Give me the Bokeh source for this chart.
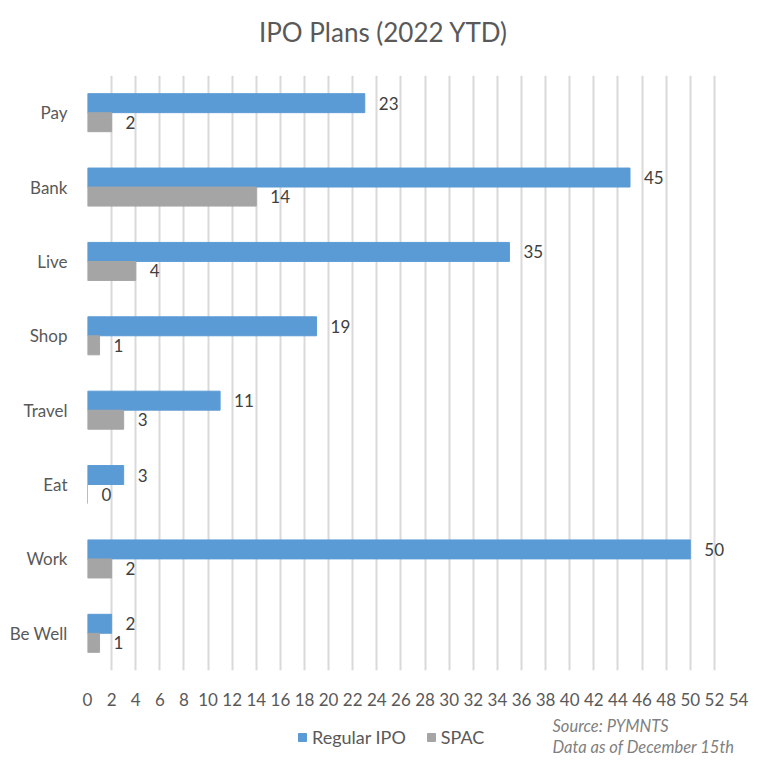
from bokeh.plotting import figure
from bokeh.layouts import column
from bokeh.models import (ColumnDataSource, FactorRange, Label, FixedTicker, Legend, LegendItem)
from bokeh.transform import dodge
from bokeh.core.properties import value
from bokeh.embed import file_html
from bokeh.resources import INLINE

categories = ["Pay", "Bank", "Live", "Shop", "Travel", "Eat", "Work", "Be Well"]
regular_ipo = [23, 45, 35, 19, 11, 3, 50, 2]
spac = [2, 14, 4, 1, 3, 0, 2, 1]
x_ticks = list(range(0, 56, 2))
series_names = ["Regular IPO", "SPAC"]
title_text = "IPO Plans (2022 YTD)"
source_lines = ["Source: PYMNTS", "Data as of December 15th"]

FONT = "Lato"
BLUE = "#5B9BD5"
GRAY = "#A5A5A5"
TXT = "#595959"


def strip(height):
    f = figure(width=754, height=height, output_backend="svg", toolbar_location=None,
               x_range=(0, 651), y_range=(0, height),
               min_border_left=87, min_border_right=16, min_border_top=0, min_border_bottom=0,
               x_axis_location=None, y_axis_location=None)
    f.outline_line_color = None
    f.xgrid.visible = False
    f.ygrid.visible = False
    return f


# title strip
p0 = strip(50)
p0.add_layout(Label(x=296, y=19, x_units="screen", y_units="screen", text=title_text,
                    text_font=FONT, text_font_size="26px", text_color=TXT,
                    text_align="center", text_baseline="middle"))

src = ColumnDataSource(dict(cat=categories, reg=regular_ipo, spac=spac,
                            reg_s=[str(v) for v in regular_ipo],
                            spac_s=[str(v) for v in spac]))

p = figure(width=754, height=662, output_backend="svg", toolbar_location=None,
           y_range=FactorRange(*categories[::-1], range_padding=0),
           x_range=(0, 54),
           min_border_left=87, min_border_right=16, min_border_top=25, min_border_bottom=42)
p.outline_line_color = None

p.hbar(y=dodge("cat", 0.128, range=p.y_range), right="reg", left=0, height=0.255,
       source=src, color=BLUE)
p.hbar(y=dodge("cat", -0.128, range=p.y_range), right="spac", left=0, height=0.255,
       source=src, color=GRAY)

p.text(x="reg", y=dodge("cat", 0.128, range=p.y_range), text="reg_s", source=src,
       x_offset=14, text_baseline="middle", text_font=value(FONT), text_font_size="17px",
       text_color="#404040")
p.text(x="spac", y=dodge("cat", -0.128, range=p.y_range), text="spac_s", source=src,
       x_offset=14, text_baseline="middle", text_font=value(FONT), text_font_size="17px",
       text_color="#404040")

p.xaxis.ticker = FixedTicker(ticks=x_ticks)
p.xgrid.ticker = FixedTicker(ticks=x_ticks)
p.xgrid.grid_line_color = "#D9D9D9"
p.xgrid.grid_line_width = 2
p.ygrid.grid_line_color = None
for ax in (p.xaxis, p.yaxis):
    ax.axis_line_color = None
    ax.major_tick_line_color = None
    ax.minor_tick_line_color = None
    ax.major_label_text_font = FONT
    ax.major_label_text_font_size = "17px"
    ax.major_label_text_color = TXT
p.xaxis.major_label_standoff = 16
p.yaxis.major_label_standoff = 14

# bottom strip: legend + source note
p2 = strip(50)
# zero-size swatch renderers that only feed the legend
r1 = p2.hbar(y=[0], right=[0], left=[0], height=0, color=BLUE)
r2 = p2.hbar(y=[0], right=[0], left=[0], height=0, color=GRAY)
legend = Legend(items=[LegendItem(label=series_names[0], renderers=[r1]),
                       LegendItem(label=series_names[1], renderers=[r2])],
                orientation="horizontal", location=(210, 14),
                glyph_width=10, glyph_height=10, label_standoff=5, spacing=20,
                padding=0, margin=0, border_line_color=None, background_fill_alpha=0,
                label_text_font=FONT, label_text_font_size="18px", label_text_color=TXT,
                label_height=20)
p2.add_layout(legend)
for txt, yy in zip(source_lines, (37, 16)):
    p2.add_layout(Label(x=465, y=yy, x_units="screen", y_units="screen", text=txt,
                        text_font=FONT, text_font_size="16.5px", text_font_style="italic",
                        text_color="#7F7F7F", text_baseline="middle"))

layout = column(p0, p, p2, spacing=0)
open("out.html", "w").write(file_html(layout, INLINE))
